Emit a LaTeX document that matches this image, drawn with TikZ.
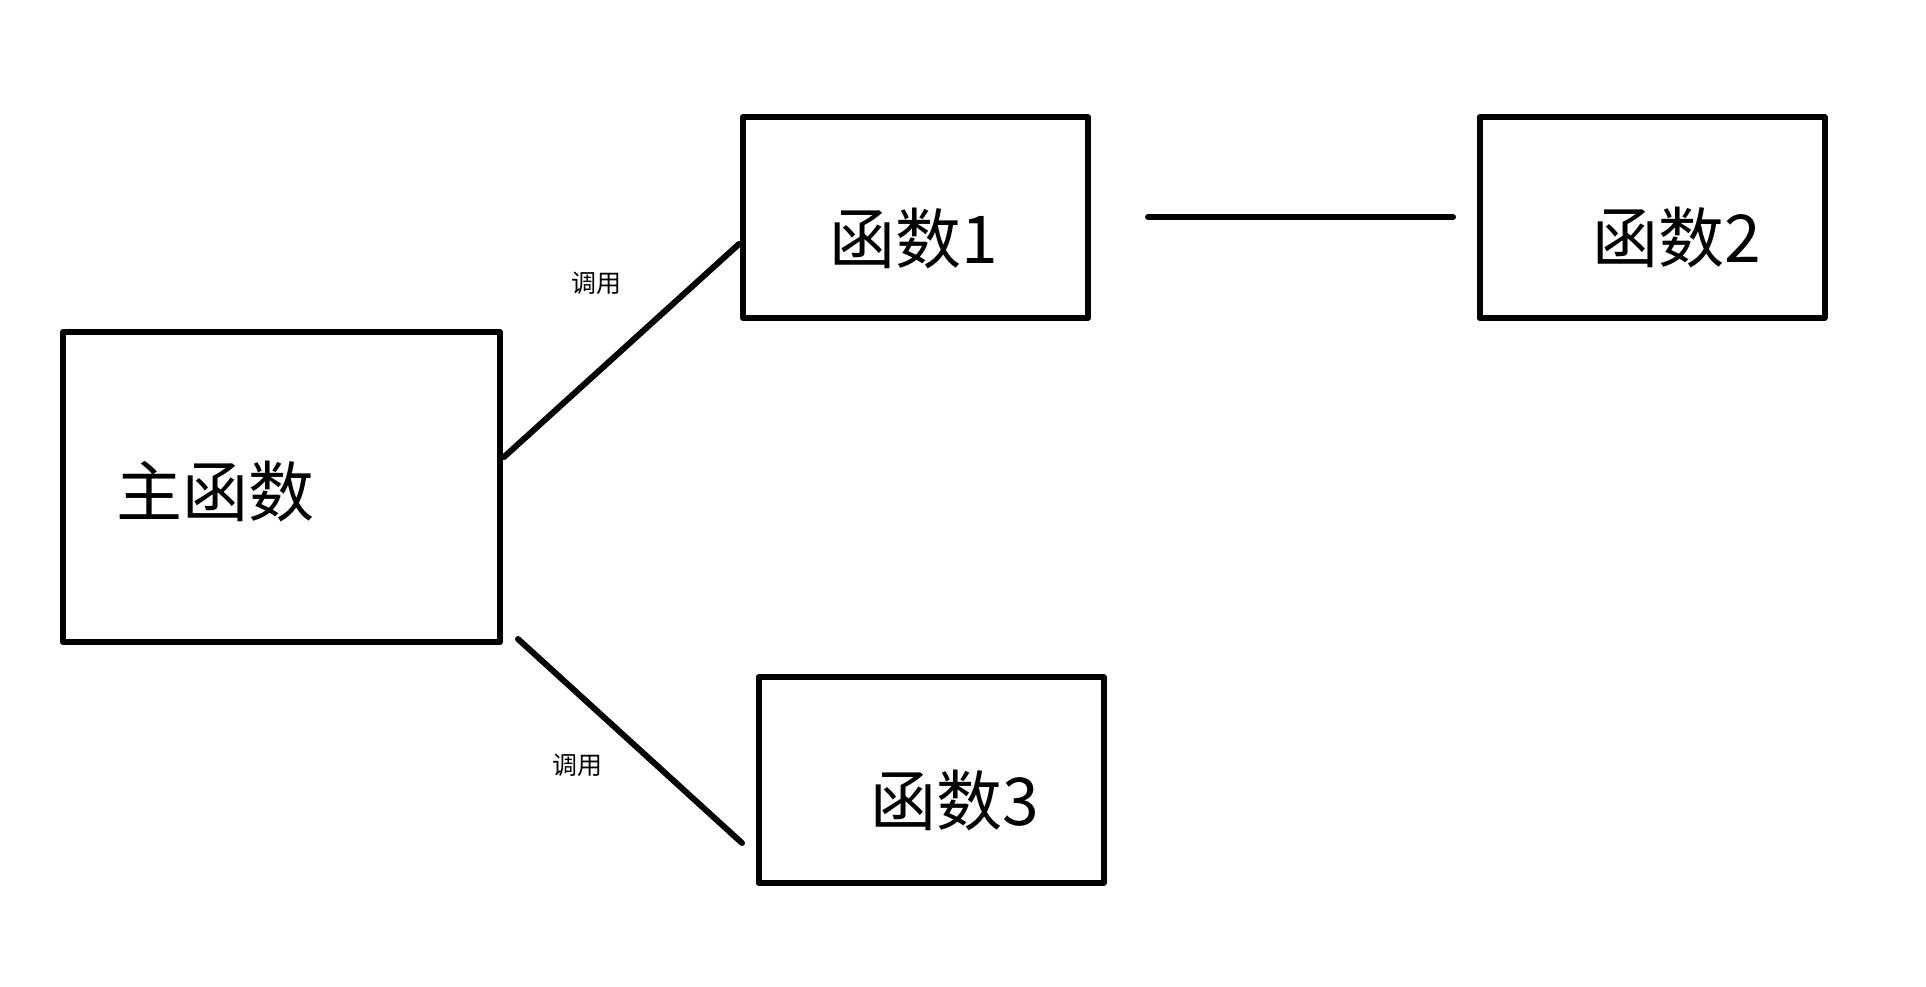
\documentclass[tikz,border=0pt]{standalone}
\usepackage{fontspec}
\setmainfont{Noto Sans CJK SC}
\usetikzlibrary{positioning}
\tikzset{
  funcbox/.style={draw=black, line width=6pt, line join=round, inner sep=0pt,
    minimum width=#1},
  funcbox/.default={345pt},
  bigtext/.style={font=\fontsize{66}{78}\selectfont, inner sep=0pt},
  calltext/.style={font=\fontsize{25}{30}\selectfont, inner sep=0pt},
  link/.style={line width=6pt, line cap=round},
}
\begin{document}
\begin{tikzpicture}[x=1pt, y=-1pt]
  \useasboundingbox (0,0) rectangle (1926,986);

  % boxes
  \node[funcbox=437pt, minimum height=310pt] (main) at (281.5,487) {};
  \node[funcbox, minimum height=201pt] (f1) at (915.5,217.5) {};
  \node[funcbox, minimum height=201pt] (f2) at (1652,217.5) {};
  \node[funcbox, minimum height=206pt] (f3) at (931,780) {};

  % texts
  \node[bigtext] (tmain) at (215,491) {主函数};
  \node[bigtext] (t1) at (914,238) {函数1};
  \node[bigtext] (t2) at (1677,237) {函数2};
  \node[bigtext] (t3) at (955,800) {函数3};

  \node[calltext] (call1) at (596,283) {调用};
  \node[calltext] (call3) at (577,765) {调用};

  % connectors
  \coordinate (a1) at (504,457);
  \coordinate (b1) at (739,244);
  \coordinate (a2) at (1148,217);
  \coordinate (b2) at (1453,217);
  \coordinate (a3) at (518,639);
  \coordinate (b3) at (742,843);
  \draw[link] (a1) -- (b1);
  \draw[link] (a2) -- (b2);
  \draw[link] (a3) -- (b3);
\end{tikzpicture}
\end{document}
